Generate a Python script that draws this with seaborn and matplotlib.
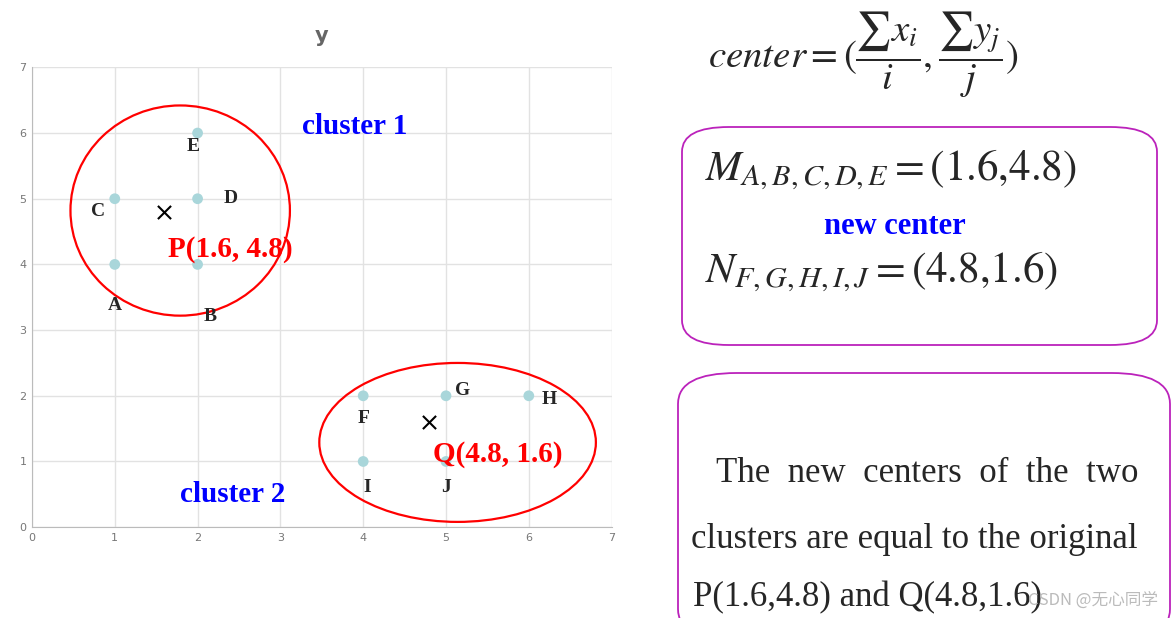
import matplotlib
matplotlib.use('Agg')
import matplotlib.pyplot as plt
import seaborn as sns
import pandas as pd
from matplotlib.patches import Ellipse, FancyBboxPatch

# data
names = ['A', 'B', 'C', 'D', 'E', 'F', 'G', 'H', 'I', 'J']
xs = [1, 2, 1, 2, 2, 4, 5, 6, 4, 5]
ys = [4, 4, 5, 5, 6, 2, 2, 2, 1, 1]
label_dx = [0.0, 0.15, -0.2, 0.4, -0.05, 0.0, 0.2, 0.25, 0.05, 0.0]
label_dy = [-0.62, -0.8, -0.2, 0.0, -0.2, -0.35, 0.08, -0.05, -0.4, -0.4]
centers_x = [1.6, 4.8]
centers_y = [4.8, 1.6]

sns.set_style('whitegrid')
plt.rcParams['font.family'] = ['Liberation Serif', 'DejaVu Sans']
plt.rcParams['mathtext.fontset'] = 'stix'

fig = plt.figure(figsize=(11.71, 6.18), dpi=100)
ax = fig.add_axes([0.0273, 0.147, 0.495, 0.744])
df = pd.DataFrame({'x': xs, 'y': ys})
sns.scatterplot(data=df, x='x', y='y', ax=ax, color='#a9d6da', s=60, edgecolor='none', zorder=3)
ax.set_xlim(0, 7)
ax.set_ylim(0, 7)
ax.set_xlabel('')
ax.set_ylabel('')
ax.tick_params(labelsize=8, colors='#777777', length=0, pad=4)
for lab in ax.get_xticklabels() + ax.get_yticklabels():
    lab.set_family('DejaVu Sans')
for s in ['top', 'right']:
    ax.spines[s].set_visible(False)
for s in ['left', 'bottom']:
    ax.spines[s].set_color('#bbbbbb')
ax.grid(color='#e2e2e2', linewidth=1)
ax.set_title('y', fontsize=15, fontweight='bold', color='#666666', family='DejaVu Sans', pad=18)

for n, x, y, dx, dy in zip(names, xs, ys, label_dx, label_dy):
    ax.text(x + dx, y + dy, n, fontsize=14, fontweight='bold', ha='center', va='center')

ax.scatter(centers_x, centers_y, marker='x', color='black', s=90, linewidths=1.5, zorder=4)
ax.add_patch(Ellipse((1.79, 4.82), 2.65, 3.2, fill=False, edgecolor='red', lw=1.6, clip_on=False))
ax.add_patch(Ellipse((5.14, 1.29), 3.34, 2.42, fill=False, edgecolor='red', lw=1.6, clip_on=False))
ax.text(1.64, 4.22, 'P(1.6, 4.8)', color='red', fontsize=21, fontweight='bold', va='center')
ax.text(4.84, 1.1, 'Q(4.8, 1.6)', color='red', fontsize=21, fontweight='bold', va='center')
ax.text(3.26, 6.1, 'cluster 1', color='blue', fontsize=21, fontweight='bold', va='center')
ax.text(1.79, 0.49, 'cluster 2', color='blue', fontsize=21, fontweight='bold', va='center')

W, H = 1171, 618
def fx(px): return px / W
def fy(py): return 1 - py / H

fig.text(fx(708), fy(55), r'$center = (\dfrac{\sum x_i}{i}, \dfrac{\sum y_j}{j})$', fontsize=28, va='center')
fig.patches.append(FancyBboxPatch((fx(682), fy(345)), fx(1157) - fx(682), fy(127) - fy(345),
                                  boxstyle='round,pad=0,rounding_size=0.04', transform=fig.transFigure,
                                  fill=False, edgecolor='#bb22bb', lw=1.3))
fig.patches.append(FancyBboxPatch((fx(678), fy(640)), fx(1170) - fx(678), fy(373) - fy(640),
                                  boxstyle='round,pad=0,rounding_size=0.05', transform=fig.transFigure,
                                  fill=False, edgecolor='#bb22bb', lw=1.3))
fig.text(fx(705), fy(170), r'$M_{A,B,C,D,E} = (1.6{,}4.8)$', fontsize=31, va='center')
fig.text(fx(895), fy(227), 'new center', color='blue', fontsize=22, fontweight='bold', ha='center', va='center')
fig.text(fx(705), fy(272), r'$N_{F,G,H,I,J} = (4.8{,}1.6)$', fontsize=31, va='center')
fig.text(fx(1138), fy(473), 'The  new  centers  of  the  two', fontsize=25, ha='right', va='center')
fig.text(fx(1138), fy(540), 'clusters are equal to the original', fontsize=25, ha='right', va='center')
fig.text(fx(693), fy(598), 'P(1.6,4.8) and Q(4.8,1.6)', fontsize=25, ha='left', va='center')
fig.text(fx(1158), fy(600), 'CSDN @无心同学', fontsize=12, color='#bbbbbb', ha='right', va='center',
         family=['Noto Sans CJK SC', 'DejaVu Sans'])

fig.savefig('out.png', dpi=100)
